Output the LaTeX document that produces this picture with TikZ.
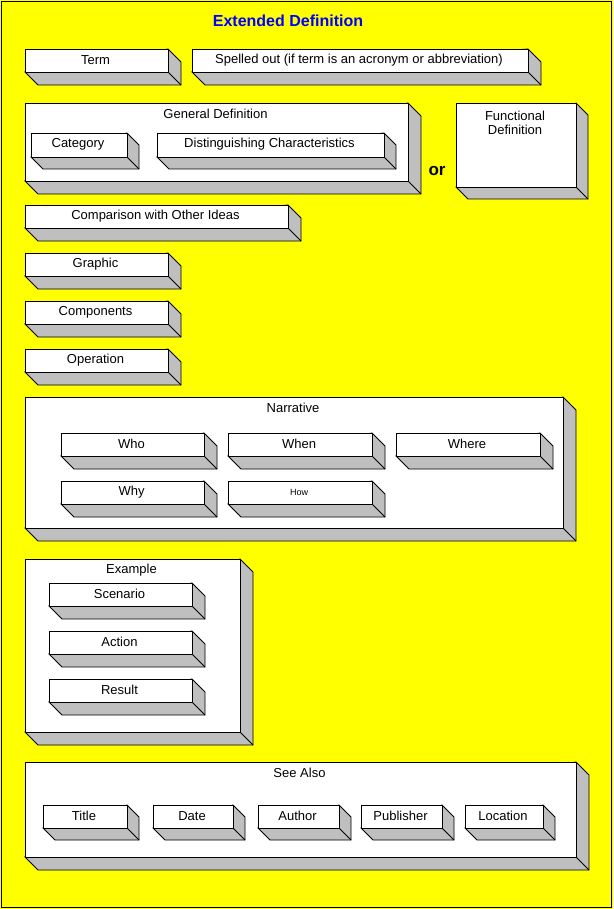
\documentclass[tikz,border=0pt]{standalone}
\usepackage{fontspec}
\setmainfont{Liberation Sans}
\definecolor{bgyellow}{RGB}{255,255,0}
\begin{document}
\begin{tikzpicture}[x=1pt,y=-1pt,
  front/.style={draw=black,fill=white,line width=0.8pt},
  side/.style={draw=black,fill=black!25,line width=0.8pt,line join=miter},
  lbl/.style={font=\fontsize{13}{14}\selectfont,inner sep=0pt,anchor=center}]
\useasboundingbox (0,0) rectangle (613,909);
\fill[bgyellow] (0,0) rectangle (613,909);
\draw[line width=0.8pt] (1,1) rectangle (611,907);
% \bx{name}{x1}{y1}{x2}{y2}{d}{text}
\newcommand{\bx}[7]{%
  \fill[side] (#4,#3) -- ({#4+#6},{#3+#6}) -- ({#4+#6},{#5+#6}) -- ({#2+#6},{#5+#6}) -- (#2,#5) -- cycle;
  \draw[line width=0.8pt] (#4,#5) -- ({#4+#6},{#5+#6});
  \draw[front] (#2,#3) rectangle (#4,#5);
  \node[lbl] (#1) at ({(#2+#4)/2-1},{#3+11}) {#7};}
\node[font=\fontsize{16}{18}\selectfont\bfseries,text=blue] (title) at (288,21) {Extended Definition};
\bx{term}{25}{49}{168}{72}{13}{Term}
\bx{spelled}{192}{49}{528}{72}{13}{Spelled out (if term is an acronym or abbreviation)}
\bx{gendef}{25}{103}{408}{181}{13}{General Definition}
\bx{cat}{31}{133}{127}{157}{12}{Category}
\bx{dist}{157}{133}{384}{157}{12}{Distinguishing Characteristics}
\node[font=\fontsize{17}{18}\selectfont\bfseries] (or) at (437,171) {or};
\bx{func}{456}{103}{576}{187}{12}{}
\node[lbl,align=center] (functxt) at (515,123) {Functional\\Definition};
\bx{comp}{25}{205}{288}{228}{13}{Comparison with Other Ideas}
\bx{graphic}{25}{253}{168}{276}{13}{Graphic}
\bx{components}{25}{301}{168}{324}{13}{Components}
\bx{operation}{25}{349}{168}{372}{13}{Operation}
\bx{narr}{25}{397}{563}{528}{13}{Narrative}
\bx{who}{61}{433}{204}{456}{13}{Who}
\bx{when}{228}{433}{372}{456}{13}{When}
\bx{where}{396}{433}{540}{456}{13}{Where}
\bx{why}{61}{481}{204}{504}{13}{Why}
\bx{how}{228}{481}{372}{504}{13}{\fontsize{9}{10}\selectfont How}
\bx{example}{25}{559}{240}{732}{13}{Example}
\bx{scenario}{49}{583}{192}{606}{13}{Scenario}
\bx{action}{49}{631}{192}{654}{13}{Action}
\bx{result}{49}{679}{192}{702}{13}{Result}
\bx{seealso}{25}{762}{576}{857}{13}{See Also}
\bx{ttl}{43}{805}{127}{828}{12}{Title}
\bx{date}{153}{805}{233}{828}{12}{Date}
\bx{author}{258}{805}{339}{828}{12}{Author}
\bx{publisher}{361}{805}{442}{828}{12}{Publisher}
\bx{location}{465}{805}{543}{828}{12}{Location}
\end{tikzpicture}
\end{document}
